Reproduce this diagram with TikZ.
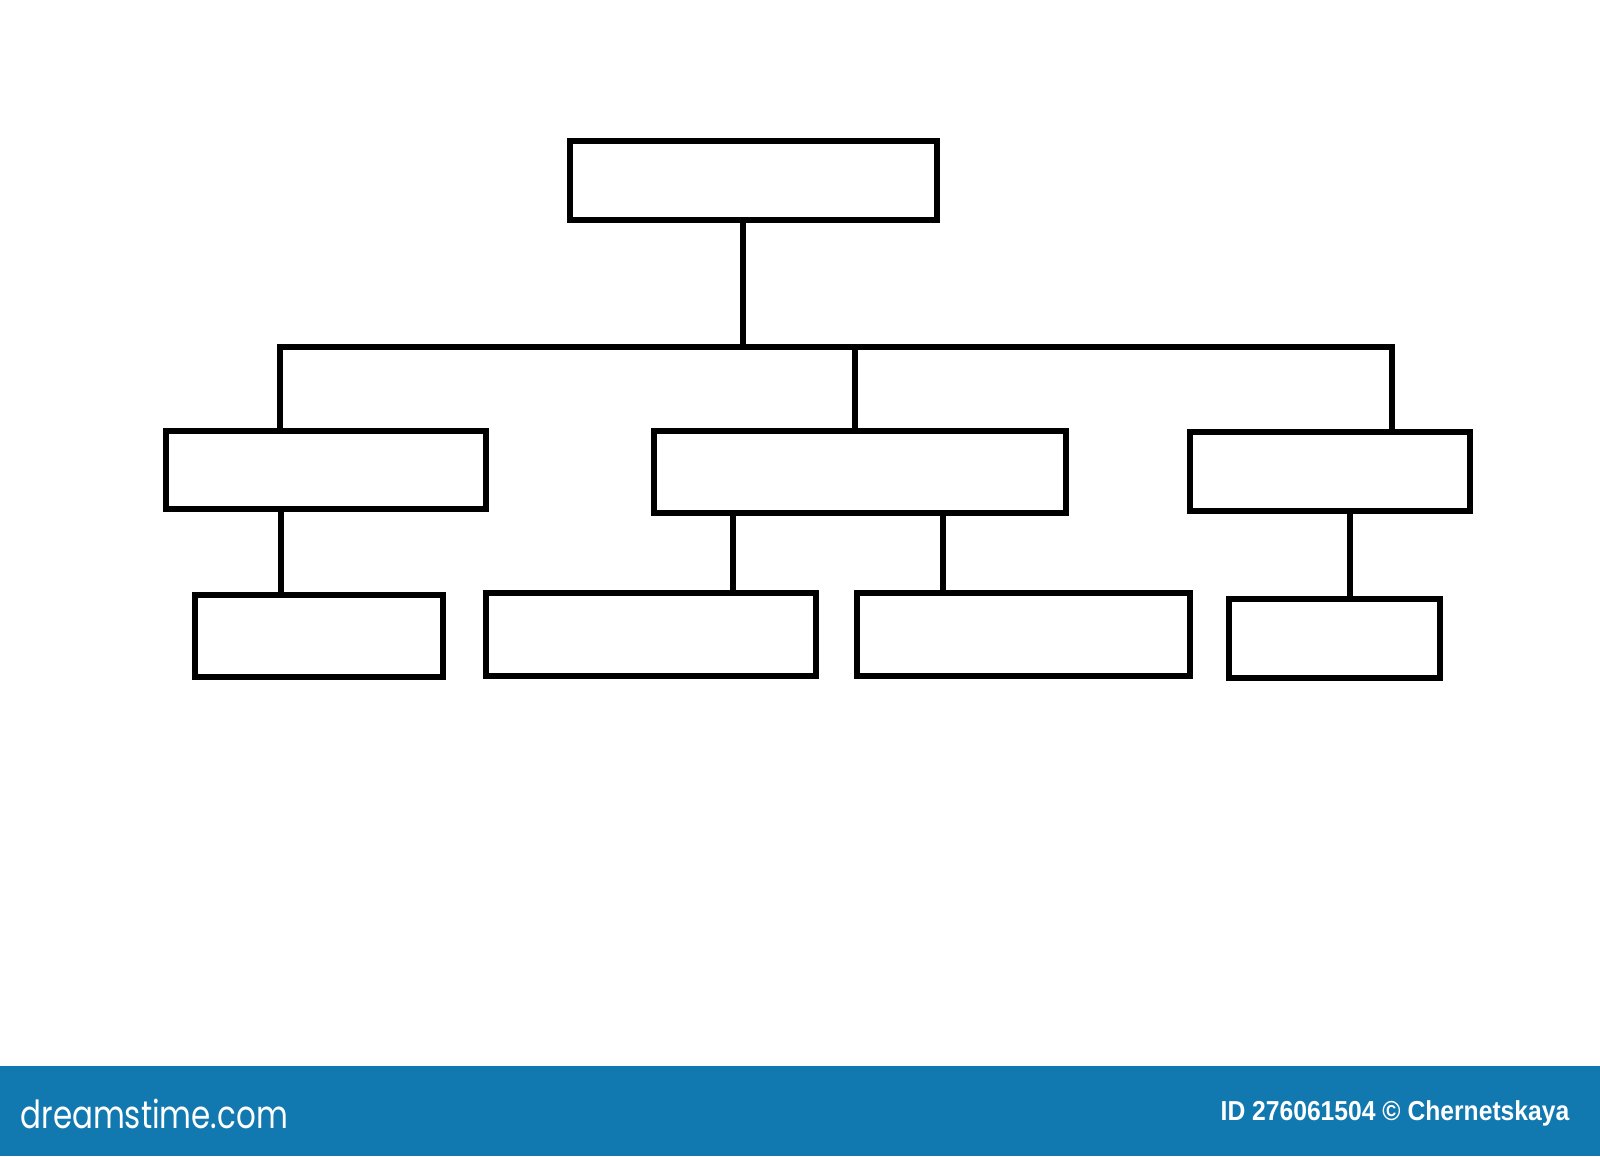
\documentclass[tikz,border=0pt]{standalone}
\usepackage{fontspec}
\newfontfamily\logofont{Poppins}
\newfontfamily\idfont{Liberation Sans}
\definecolor{bannerblue}{RGB}{17,120,176}
\begin{document}
\begin{tikzpicture}[x=0.1mm,y=-0.1mm,
  box/.style={draw=black,line width=1.5pt,rectangle,inner sep=0pt,fill=white},
  link/.style={draw=black,line width=1.5pt,line cap=round}]
\useasboundingbox (0,0) rectangle (1600,1156);
\fill[white] (0,0) rectangle (1600,1156);
% boxes
\node[box,minimum width=36.7mm,minimum height=7.9mm] (top) at (753.5,180.5) {};
\node[box,minimum width=32.0mm,minimum height=7.8mm] (La) at (326,470) {};
\node[box,minimum width=41.2mm,minimum height=8.2mm] (Lb) at (860,472) {};
\node[box,minimum width=28.0mm,minimum height=7.9mm] (Lc) at (1330,471.5) {};
\node[box,minimum width=24.8mm,minimum height=8.2mm] (Ma) at (319,636) {};
\node[box,minimum width=33.0mm,minimum height=8.3mm] (Mb) at (651,634.5) {};
\node[box,minimum width=33.3mm,minimum height=8.3mm] (Mc) at (1023.5,634.5) {};
\node[box,minimum width=21.1mm,minimum height=7.9mm] (Md) at (1334.5,638.5) {};
% junction coordinates
\coordinate (j) at (743,347);
\coordinate (bl) at (280,347);
\coordinate (bm) at (855,347);
\coordinate (br) at (1392,347);
\coordinate (xa) at (281,0);
\coordinate (xb1) at (733,0);
\coordinate (xb2) at (943,0);
\coordinate (xc) at (1350,0);
% connectors
\draw[link] (top.south -| j) -- (j);
\draw[link] (La.north -| bl) -- (bl) -- (br) -- (Lc.north -| br);
\draw[link] (bm) -- (Lb.north -| bm);
\draw[link] (La.south -| xa) -- (Ma.north -| xa);
\draw[link] (Lb.south -| xb1) -- (Mb.north -| xb1);
\draw[link] (Lb.south -| xb2) -- (Mc.north -| xb2);
\draw[link] (Lc.south -| xc) -- (Md.north -| xc);
% banner
\fill[bannerblue] (0,1066) rectangle (1600,1156);
\node[anchor=base west,inner sep=0pt,text=white,xscale=0.8,font=\logofont\fontsize{11}{13}\selectfont] (logo) at (20,1128) {dreamstime.com};
\node[anchor=base west,inner sep=0pt,text=white,xscale=0.9,font=\idfont\bfseries\fontsize{7.8}{9}\selectfont] (id) at (1220,1120) {ID 276061504 © Chernetskaya};
\end{tikzpicture}
\end{document}
